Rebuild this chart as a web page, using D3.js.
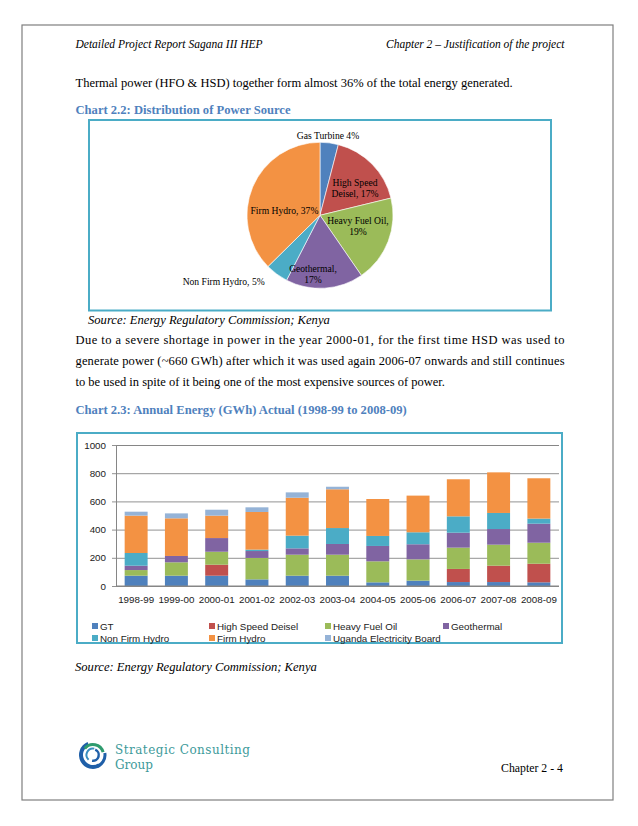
<!DOCTYPE html>
<html>
<head>
<meta charset="utf-8">
<script src="https://cdn.jsdelivr.net/npm/d3@7/dist/d3.min.js"></script>
<style>
  html, body { margin: 0; padding: 0; background: #ffffff; }
  svg { display: block; }
</style>
</head>
<body>
<svg id="page" width="638" height="826"></svg>
<script>
// ---------- DATA ----------
// Chart 2.2 pie
const pieCategories = ["Gas Turbine", "High Speed Deisel", "Heavy Fuel Oil", "Geothermal", "Non Firm Hydro", "Firm Hydro"];
const pieValues = [4, 17, 19, 17, 5, 37];
const pieLabels = [["Gas Turbine 4%"], ["High Speed", "Deisel, 17%"], ["Heavy Fuel Oil,", "19%"], ["Geothermal,", "17%"], ["Non Firm Hydro, 5%"], ["Firm Hydro, 37%"]];

// Chart 2.3 stacked bars (GWh)
const years = ["1998-99", "1999-00", "2000-01", "2001-02", "2002-03", "2003-04", "2004-05", "2005-06", "2006-07", "2007-08", "2008-09"];
const seriesNames = ["GT", "High Speed Deisel", "Heavy Fuel Oil", "Geothermal", "Non Firm Hydro", "Firm Hydro", "Uganda Electricity Board"];
const gt   = [73, 73, 73, 47, 73, 73, 26, 38, 28, 28, 26];
const hsd  = [0, 0, 78, 0, 0, 0, 0, 0, 93, 116, 132];
const hfo  = [40, 95, 92, 152, 149, 149, 149, 151, 151, 149, 149];
const geo  = [31, 45, 97, 49, 45, 76, 109, 107, 106, 111, 135];
const nfh  = [90, 0, 0, 10, 90, 113, 71, 85, 116, 114, 36];
const fh   = [265, 267, 159, 267, 269, 275, 262, 260, 263, 288, 286];
const ueb  = [28, 35, 42, 33, 38, 18, 0, 0, 0, 0, 0];
const yTicks = [0, 200, 400, 600, 800, 1000];

// ---------- STYLE ----------
const colors = ["#4F81BD", "#C0504D", "#9BBB59", "#8064A2", "#4BACC6", "#F39243", "#95B3D7"];
const serif = "'Liberation Serif', 'Times New Roman', serif";
const sans = "'Liberation Sans', Arial, sans-serif";
const titleBlue = "#4F81BD";

const svg = d3.select("#page");

// page frame
svg.append("rect").attr("x", 22).attr("y", 25).attr("width", 591).attr("height", 775)
  .attr("fill", "none").attr("stroke", "#7f7f7f").attr("stroke-width", 1.2);

function txt(x, y, s, opts = {}) {
  const t = svg.append("text").attr("x", x).attr("y", y).text(s)
    .attr("font-family", opts.family || serif)
    .attr("font-size", opts.size || 12.5)
    .attr("fill", opts.fill || "#000");
  if (opts.italic) t.attr("font-style", "italic");
  if (opts.bold) t.attr("font-weight", "bold");
  if (opts.anchor) t.attr("text-anchor", opts.anchor);
  if (opts.len) t.attr("textLength", opts.len).attr("lengthAdjust", "spacing");
  return t;
}

// header
txt(75.5, 48, "Detailed Project Report Sagana III HEP", {italic: true, size: 11.5});
txt(564.5, 48, "Chapter 2 – Justification of the project", {italic: true, size: 11.5, anchor: "end"});
txt(75.5, 87, "Thermal power (HFO & HSD) together form almost 36% of the total energy generated.", {size: 12.5});
txt(75.5, 113.5, "Chart 2.2: Distribution of Power Source", {bold: true, size: 12.6, fill: titleBlue});

// ---------- PIE ----------
svg.append("rect").attr("x", 89).attr("y", 120).attr("width", 462).attr("height", 190.5)
  .attr("fill", "#fff").attr("stroke", "#4BACC6").attr("stroke-width", 2);

const pcx = 320, pcy = 215.3, pr = 73;
const pie = d3.pie().sort(null).value(d => d)(pieValues);
const arc = d3.arc().innerRadius(0).outerRadius(pr);
const pg = svg.append("g").attr("transform", `translate(${pcx},${pcy})`);
pg.selectAll("path").data(pie).join("path")
  .attr("d", arc).attr("fill", (d, i) => colors[i])
  .attr("stroke", "#fff").attr("stroke-width", 0.6);

// label layout: polar [angle deg, radius] relative to the pie centre
const pieLabelLayout = [[5.7, 80], [52, 44.4], [105.9, 39.5], [186.8, 59.4], [235.5, 116.9], [277.5, 35.9]];
pieLabels.forEach((lines, i) => {
  const a = pieLabelLayout[i][0] * Math.PI / 180, r = pieLabelLayout[i][1];
  const lx = Math.sin(a) * r, ly = -Math.cos(a) * r;
  const t = pg.append("text").attr("text-anchor", "middle")
    .attr("font-family", serif).attr("font-size", 9.6).attr("fill", "#000");
  lines.forEach((s, k) => {
    t.append("tspan").attr("x", lx)
      .attr("y", ly + (k - (lines.length - 1) / 2) * 10.7 + 3.3).text(s);
  });
});

txt(88, 323.5, "Source: Energy Regulatory Commission; Kenya", {italic: true, size: 12.6});

// paragraph (justified)
txt(75.5, 343.5, "Due to a severe shortage in power in the year 2000-01, for the first time HSD was used to", {size: 12.5, len: 489});
txt(75.5, 364.8, "generate power (~660 GWh) after which it was used again 2006-07 onwards and still continues", {size: 12.5, len: 489});
txt(75.5, 386, "to be used in spite of it being one of the most expensive sources of power.", {size: 12.5});
txt(75.5, 413.5, "Chart 2.3: Annual Energy (GWh) Actual (1998-99 to 2008-09)", {bold: true, size: 12.6, fill: titleBlue});

// ---------- STACKED BARS ----------
svg.append("rect").attr("x", 77).attr("y", 433).attr("width", 485).attr("height", 210)
  .attr("fill", "#fff").attr("stroke", "#4BACC6").attr("stroke-width", 2);

const x0 = 116, x1 = 559, yTop = 445, yBot = 586;
const x = d3.scaleBand().domain(years).range([x0, x1]).paddingInner(0.43).paddingOuter(0.215);
const y = d3.scaleLinear().domain([0, 1000]).range([yBot, yTop]);

const table = years.map((yr, i) => ({
  year: yr,
  "GT": gt[i], "High Speed Deisel": hsd[i], "Heavy Fuel Oil": hfo[i], "Geothermal": geo[i],
  "Non Firm Hydro": nfh[i], "Firm Hydro": fh[i], "Uganda Electricity Board": ueb[i]
}));
const stacked = d3.stack().keys(seriesNames)(table);

// gridlines + y axis
const yAxis = d3.axisLeft(y).tickValues(yTicks).tickFormat(d3.format("d")).tickSize(-(x1 - x0)).tickPadding(10);
const gy = svg.append("g").attr("transform", `translate(${x0},0)`).call(yAxis);
gy.select(".domain").attr("stroke", "#868686");
gy.selectAll(".tick line").attr("stroke", "#868686").attr("stroke-width", 0.9).attr("x1", -4);
gy.selectAll(".tick text").attr("font-family", sans).attr("font-size", 9.8).attr("fill", "#222");

const bg = svg.append("g");
stacked.forEach((layer, si) => {
  bg.selectAll(null).data(layer).join("rect")
    .attr("x", d => x(d.data.year))
    .attr("width", x.bandwidth())
    .attr("y", d => y(d[1]))
    .attr("height", d => Math.max(0, y(d[0]) - y(d[1])))
    .attr("fill", colors[si]);
});

// x axis
const xAxis = d3.axisBottom(x).tickSize(0).tickPadding(10);
const gx = svg.append("g").attr("transform", `translate(0,${yBot})`).call(xAxis);
gx.select(".domain").attr("stroke", "#868686").attr("d", `M${x0},0H${x1}`);
gx.selectAll(".tick text").attr("font-family", sans).attr("font-size", 9.8).attr("fill", "#222");

// legend
const legCols = [92, 209, 325, 443];
seriesNames.forEach((name, i) => {
  const col = i < 4 ? i : i - 4;
  const row = i < 4 ? 0 : 1;
  const lx = legCols[col], ly = 626 + row * 12;
  svg.append("rect").attr("x", lx).attr("y", ly - 3).attr("width", 6).attr("height", 6).attr("fill", colors[i]);
  svg.append("text").attr("x", lx + 8).attr("y", ly + 3.5).text(name)
    .attr("font-family", sans).attr("font-size", 9.8).attr("fill", "#222");
});

txt(75, 670.5, "Source: Energy Regulatory Commission; Kenya", {italic: true, size: 12.6});

// ---------- FOOTER ----------
const logo = svg.append("g").attr("transform", "translate(93,755)");
logo.append("path").attr("d", d3.arc().innerRadius(10).outerRadius(14).startAngle(-3.7).endAngle(-0.4)()).attr("fill", "#1F5FA8");
logo.append("path").attr("d", d3.arc().innerRadius(9).outerRadius(12).startAngle(-0.9).endAngle(1.3)()).attr("fill", "#2E9B6E");
logo.append("path").attr("d", d3.arc().innerRadius(4.5).outerRadius(7).startAngle(0.4).endAngle(3.3)()).attr("fill", "#1F5FA8");
logo.append("path").attr("d", d3.arc().innerRadius(5.5).outerRadius(7.5).startAngle(-2.4).endAngle(0.2)()).attr("fill", "#3A8FC0");
logo.append("path").attr("d", d3.arc().innerRadius(10.5).outerRadius(13.5).startAngle(1.4).endAngle(2.9)()).attr("fill", "#1F5FA8");

const logoFont = "'DejaVu Serif', 'Liberation Serif', serif";
txt(115, 754, "Strategic Consulting", {size: 12, family: logoFont, fill: "#3D9A9A", len: 135});
txt(115, 769, "Group", {size: 12, family: logoFont, fill: "#3D9A9A"});
txt(563, 772, "Chapter 2 - 4", {size: 11.8, anchor: "end"});
</script>
</body>
</html>
